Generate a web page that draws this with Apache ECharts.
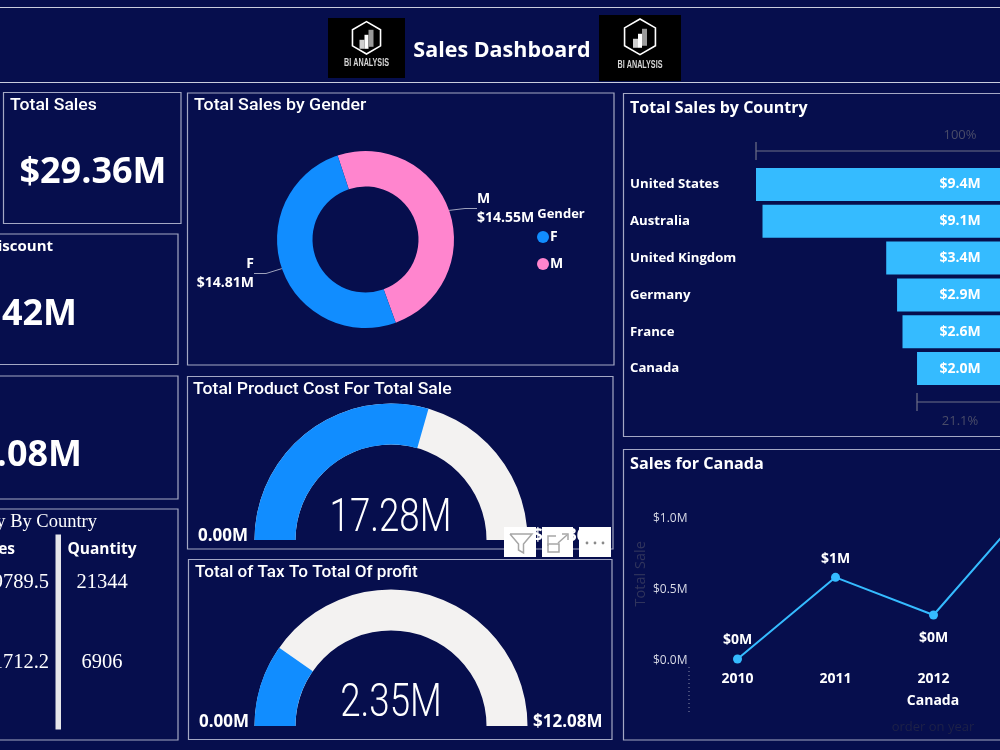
<!DOCTYPE html>
<html><head><meta charset="utf-8">
<style>html,body{margin:0;padding:0;background:#060E4D;overflow:hidden;width:1000px;height:750px}#c{width:1300px;height:750px}</style>
<script src="https://cdn.jsdelivr.net/npm/echarts@6/dist/echarts.min.js"></script>
</head><body><div id="c"></div>
<script>
const countries = ['United States','Australia','United Kingdom','Germany','France','Canada'];
const countrySales = [9.4,9.1,3.4,2.9,2.65,1.98];
const countryLabels = ['$9.4M','$9.1M','$3.4M','$2.9M','$2.6M','$2.0M'];
const genders = ['M','F'];
const genderSales = [14.55,14.81];
const years = ['2010','2011','2012','2013'];
const canadaSales = [0.0,0.575,0.31,1.1];
const costValue = 17.28, costMax = 29.36;
const taxValue = 2.35, taxMax = 12.08;
const kpis = ['$29.36M','$9.42M','$12.08M'];
const tableSales = ['9389789.5','3391712.2'];
const tableQty = ['21344','6906'];

const BG='#060E4D', FRAME='#A4A8C4', WHITE='#FFFFFF', BLUE='#118DFF', PINK='#FF85CE', SKY='#35BBFF', TRACK='#F3F2F1';
const DIN='Roboto, sans-serif', SEG='"Open Sans", sans-serif', SERIF='"Liberation Serif", serif';
const g=[];
function frame(x0,y0,x1,y1){g.push({type:'rect',shape:{x:x0,y:y0,width:x1-x0,height:y1-y0},style:{fill:'none',stroke:FRAME,lineWidth:1.2},silent:true});}
function hline(x0,x1,y,c,w){g.push({type:'line',shape:{x1:x0,y1:y,x2:x1,y2:y},style:{stroke:c,lineWidth:w||1},silent:true});}
function vline(x,y0,y1,c,w,dash){g.push({type:'line',shape:{x1:x,y1:y0,x2:x,y2:y1},style:{stroke:c,lineWidth:w||1,lineDash:dash},silent:true});}
function txt(t,x,y,font,fill,align,sx){g.push({type:'text',z:10,x:x,y:y,scaleX:sx||1,style:{text:t,x:0,y:0,font:font,fill:fill||WHITE,textAlign:align||'left',textVerticalAlign:'middle'},silent:true});}
function logo(x0,y0,w,h){
  g.push({type:'rect',shape:{x:x0,y:y0,width:w,height:h},style:{fill:'#000'},silent:true});
  const cx=x0+w*0.5, cy=y0+h*0.33, r=h*0.27, pts=[];
  for(let i=0;i<6;i++){const a=Math.PI/3*i-Math.PI/2;pts.push([cx+r*Math.cos(a),cy+r*Math.sin(a)]);}
  g.push({type:'polygon',shape:{points:pts},style:{fill:'none',stroke:'#fff',lineWidth:1.6},silent:true});
  [[-7,2,5,9],[-2,-3,4,14],[2,-8,5,17]].forEach((b,i)=>g.push({type:'rect',shape:{x:cx+b[0],y:cy+b[1],width:b[2],height:b[3]},style:{fill:['#cfcfcf','#ffffff','#9a9a9a'][i]},silent:true}));
  txt('BI ANALYSIS',cx,y0+h*0.76,'bold 10px "Liberation Sans", sans-serif','#d6d6d6','center',0.72);
}
hline(0,1000,7.5,'#C9CCDD',1.2); hline(0,1000,82.5,'#C9CCDD',1.2);
logo(328,18,77,60); logo(599,15,82,66);
txt('Sales Dashboard',502,51,'bold 21.5px '+SEG,WHITE,'center');

frame(3.5,92.5,181,223.5); frame(-5,234,178,364.5); frame(-5,376,178,499); frame(-5,509,178,740);
frame(187.5,93,614,365); frame(187.5,376.5,613,549); frame(188.5,559.5,612,739.5);
frame(623.5,93.5,1010,436.5); frame(623.5,449.5,1010,740);

txt('Total Sales',10,106,'500 16px '+DIN,WHITE,'left',1.1);
txt(kpis[0],93,173,'bold 36px '+SEG,WHITE,'center');
txt('Total Discount',53,247,'bold 15px '+SEG,WHITE,'right');
txt(kpis[1],77,315,'bold 36px '+SEG,WHITE,'right');
txt(kpis[2],82,456,'bold 36px '+SEG,WHITE,'right');
txt('Sales & Quantity By Country',97,522,'18.5px '+SERIF,WHITE,'right');
txt('Sales',15,550,'bold 15.5px '+SEG,WHITE,'right');
txt('Quantity',102,550,'bold 15.5px '+SEG,WHITE,'center');
g.push({type:'rect',shape:{x:55.5,y:534.5,width:5.5,height:195},style:{fill:'#E6E6EA'},silent:true});
[583,663].forEach((y,i)=>{txt(tableSales[i],49,y,'20.5px '+SERIF,WHITE,'right');txt(tableQty[i],102,y,'20.5px '+SERIF,WHITE,'center');});

txt('Total Sales by Gender',194,106,'500 16px '+DIN,WHITE,'left',1.11);
txt('Gender',561,214,'bold 13px '+SEG,WHITE,'center');
txt('Total Product Cost For Total Sale',193,390,'500 16px '+DIN,WHITE,'left',1.1);
txt('Total of Tax To Total Of profit',195,573,'500 16px '+DIN,WHITE,'left',1.07);
txt('0.00M',198,536,'bold 17px '+SEG);
txt('$29.36M',533,536,'bold 17px '+SEG);
txt('0.00M',199,722,'bold 17px '+SEG);
txt('$12.08M',533,722,'bold 17px '+SEG);
txt(costValue.toFixed(2)+'M',390.5,519.5,'300 47px '+DIN,WHITE,'center',0.78);
txt(taxValue.toFixed(2)+'M',391,704.5,'300 47px '+DIN,WHITE,'center',0.78);

// visual header icons
[[504,536],[542,573],[579,611]].forEach(b=>g.push({type:'rect',z:50,shape:{x:b[0],y:527,width:b[1]-b[0],height:30},style:{fill:'#fff'},silent:true}));
g.push({type:'polyline',z:51,shape:{points:[[510,534],[532,534],[523.5,544],[523.5,553],[518.5,550],[518.5,544],[510,534]]},style:{fill:'none',stroke:'#a6a6a6',lineWidth:1.5},silent:true});
g.push({type:'polyline',z:51,shape:{points:[[548,546],[548,536],[556,536]]},style:{fill:'none',stroke:'#a6a6a6',lineWidth:1.5},silent:true});
g.push({type:'polyline',z:51,shape:{points:[[562,534],[568,534],[568,540]]},style:{fill:'none',stroke:'#a6a6a6',lineWidth:1.5},silent:true});
g.push({type:'rect',z:51,shape:{x:548,y:544,width:11,height:8},style:{fill:'none',stroke:'#a6a6a6',lineWidth:1.5},silent:true});
g.push({type:'line',z:51,shape:{x1:558,y1:543,x2:567,y2:535},style:{stroke:'#a6a6a6',lineWidth:1.5},silent:true});
[587,595,603].forEach(x=>g.push({type:'circle',z:51,shape:{cx:x,cy:543,r:1.4},style:{fill:'#8a8a8a'},silent:true}));

txt('Total Sales by Country',630,108,'bold 16px '+SEG);
txt('100%',960,135,'13px '+SEG,'#4A4C68','center');
txt('21.1%',960,421,'13px '+SEG,'#4A4C68','center');
hline(756,1000,151,'#6F7187',1.2); vline(756,142,160,'#6F7187',1.2);
hline(917,1000,402,'#6F7187',1.2); vline(917,393,411,'#6F7187',1.2);

txt('Sales for Canada',630,464,'bold 16.2px '+SEG);
txt('Canada',933,701,'bold 14px '+SEG,WHITE,'center');
txt('order on year',933,727,'13px '+SEG,'#1E2248','center');
vline(689,667,713,'#8A8DA8',1,[1,3]);

function gauge(val,max,cy){return {type:'gauge',center:[391,cy],radius:136.5,startAngle:180,endAngle:0,min:0,max:max,
  axisLine:{lineStyle:{width:41,color:[[1,TRACK]]}},progress:{show:true,width:41,overlap:false,itemStyle:{color:BLUE}},
  pointer:{show:false},axisTick:{show:false},splitLine:{show:false},axisLabel:{show:false},title:{show:false},detail:{show:false},
  data:[{value:val}]};}

const halfMax=countrySales[0]/2;
const option={backgroundColor:BG,animation:false,
  grid:[{left:756,top:166,width:408,height:221},{left:688.5,top:488.6,width:392,height:170.4}],
  xAxis:[{gridIndex:0,type:'value',min:-halfMax,max:halfMax,show:false},
    {gridIndex:1,type:'category',data:years,axisLine:{show:false},axisTick:{show:false},
     axisLabel:{color:WHITE,fontWeight:'bold',fontSize:14,fontFamily:SEG,margin:13,interval:0}}],
  yAxis:[{gridIndex:0,type:'category',inverse:true,data:countries,axisLine:{show:false},axisTick:{show:false},
     axisLabel:{color:WHITE,fontWeight:'bold',fontSize:13.2,fontFamily:SEG,align:'left',margin:126,padding:[1,0,0,0]}},
    {gridIndex:1,type:'value',min:0,max:1.2,interval:0.5,splitLine:{show:false},axisLine:{show:false},axisTick:{show:false},
     name:'Total Sale',nameLocation:'middle',nameGap:40,nameTextStyle:{color:'#30345C',fontSize:14.5,fontFamily:SEG},
     axisLabel:{margin:1,showMaxLabel:false,formatter:v=>'{a|$'+v.toFixed(1)+'M}',
       rich:{a:{color:'#D8DAE6',fontSize:12,fontFamily:SEG,padding:[4,0,0,0]}}}}],
  legend:{orient:'vertical',left:532,top:225,itemGap:13,itemWidth:12,itemHeight:12,icon:'circle',data:['F','M'],
    textStyle:{color:WHITE,fontWeight:'bold',fontSize:14,fontFamily:SEG,padding:[0,0,0,-4]}},
  series:[
   {type:'bar',name:'l',xAxisIndex:0,yAxisIndex:0,stack:'f',barWidth:33,itemStyle:{color:SKY},data:countrySales.map(v=>-v/2)},
   {type:'bar',name:'r',xAxisIndex:0,yAxisIndex:0,stack:'f',barWidth:33,itemStyle:{color:SKY},data:countrySales.map(v=>v/2),
    label:{show:true,position:[0,'50%'],align:'center',verticalAlign:'middle',color:WHITE,fontWeight:'bold',fontSize:14,fontFamily:SEG,
      formatter:p=>countryLabels[p.dataIndex]}},
   {type:'line',xAxisIndex:1,yAxisIndex:1,data:canadaSales,symbol:'circle',symbolSize:9,clip:false,lineStyle:{color:SKY,width:2},itemStyle:{color:SKY},
    label:{show:true,distance:7,color:WHITE,fontWeight:'bold',fontSize:14,fontFamily:SEG,formatter:p=>'$'+Math.round(p.value)+'M',
      position:'top'},
    labelLayout:p=>p.dataIndex===2?{dy:42}:{}},
   {type:'pie',center:[365.5,239.5],radius:[53,88.5],startAngle:108.4,clockwise:true,
    color:[PINK,BLUE],
    data:genders.map((n,i)=>({name:n,value:genderSales[i],label:{align:n==='M'?'left':'right'}})),
    label:{show:true,position:'outside',formatter:p=>p.name+'\n$'+p.value.toFixed(2)+'M',color:WHITE,fontWeight:'bold',fontSize:14,lineHeight:19,fontFamily:SEG},
    labelLine:{show:true,length:10,length2:12,smooth:false,lineStyle:{color:'#9EA2BC',width:1}},
    labelLayout:p=>p.dataIndex===0?{x:477,y:208.5,align:'left',verticalAlign:'middle'}:{x:254,y:273.5,align:'right',verticalAlign:'middle'},
    emphasis:{disabled:true}},
   gauge(costValue,costMax,540),
   gauge(taxValue,taxMax,726)
  ],
  graphic:{elements:g}
};
echarts.init(document.getElementById('c')).setOption(option);
</script></body></html>
